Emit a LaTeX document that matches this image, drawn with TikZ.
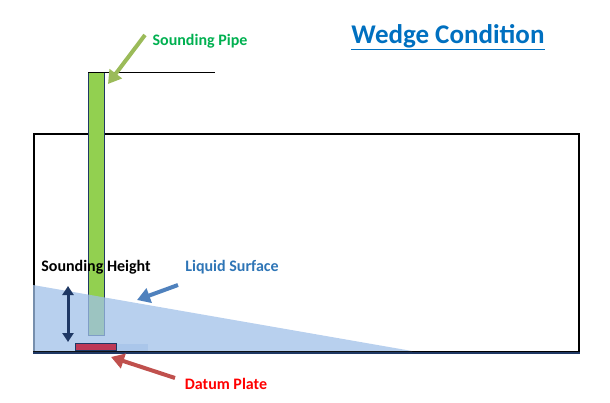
\documentclass[tikz,border=0pt]{standalone}
\usepackage{fontspec}
\setmainfont{Carlito}
\usetikzlibrary{arrows.meta}
\definecolor{pipeg}{RGB}{146,208,80}
\definecolor{water}{RGB}{160,192,232}
\definecolor{navy}{RGB}{31,56,100}
\definecolor{plate}{RGB}{190,56,86}
\definecolor{titleb}{RGB}{0,112,192}
\definecolor{lblg}{RGB}{0,176,80}
\definecolor{lblb}{RGB}{46,117,182}
\definecolor{arrg}{RGB}{155,187,89}
\definecolor{arrb}{RGB}{79,129,189}
\definecolor{arrr}{RGB}{192,80,77}
\tikzset{fatarrow/.style={line width=4pt,-{Triangle[length=13pt,width=15pt]}},
lbl/.style={font=\bfseries\fontsize{16}{19}\selectfont,inner sep=1pt}}
\begin{document}
\begin{tikzpicture}[x=1pt,y=-1pt]
\useasboundingbox (0,0) rectangle (610,403);
\node[draw, line width=1.8pt, minimum width=545pt, minimum height=218pt, inner sep=0pt, anchor=north west] (tank) at (33,133) {};
\node[draw=navy, fill=pipeg, line width=1pt, minimum width=16pt, minimum height=263pt, inner sep=0pt, anchor=north west] (pipe) at (88,72) {};
\coordinate (lineend) at (215,72);
\draw (pipe.north west) -- (lineend);
\fill[water, fill opacity=0.75] (33,285) -- (412,351) -- (33,351) -- cycle;
\fill[water, fill opacity=0.6] (116,344) rectangle (148,351);
\node[draw=navy, fill=plate, line width=0.8pt, minimum width=41pt, minimum height=7pt, inner sep=0pt, anchor=south west] (plate) at (75,351) {};
\draw[navy, line width=1.8pt] (tank.south west) -- (tank.south east);
\coordinate (h1) at (68,286);
\coordinate (h2) at (68,342);
\draw[navy, line width=3pt, {Triangle[length=9pt,width=11pt]}-{Triangle[length=9pt,width=11pt]}] (h1) -- (h2);
\node[font=\bfseries\fontsize{27}{32}\selectfont, text=titleb] (title) at (448,37) {\underline{Wedge Condition}};
\node[lbl, text=lblg] (sp) at (200,41) {Sounding Pipe};
\node[lbl] (sh) at (96,267) {Sounding Height};
\node[lbl, text=lblb] (ls) at (232,267) {Liquid Surface};
\node[lbl, text=red] (dp) at (226,384) {Datum Plate};
\coordinate (sps) at (145,35);
\coordinate (spt) at (108,84);
\coordinate (lss) at (178,285);
\coordinate (lst) at (137,300);
\coordinate (dps) at (175,378);
\coordinate (dpt) at (111,357);
\draw[fatarrow, arrg] (sps) -- (spt);
\draw[fatarrow, arrb] (lss) -- (lst);
\draw[fatarrow, arrr] (dps) -- (dpt);
\end{tikzpicture}
\end{document}
